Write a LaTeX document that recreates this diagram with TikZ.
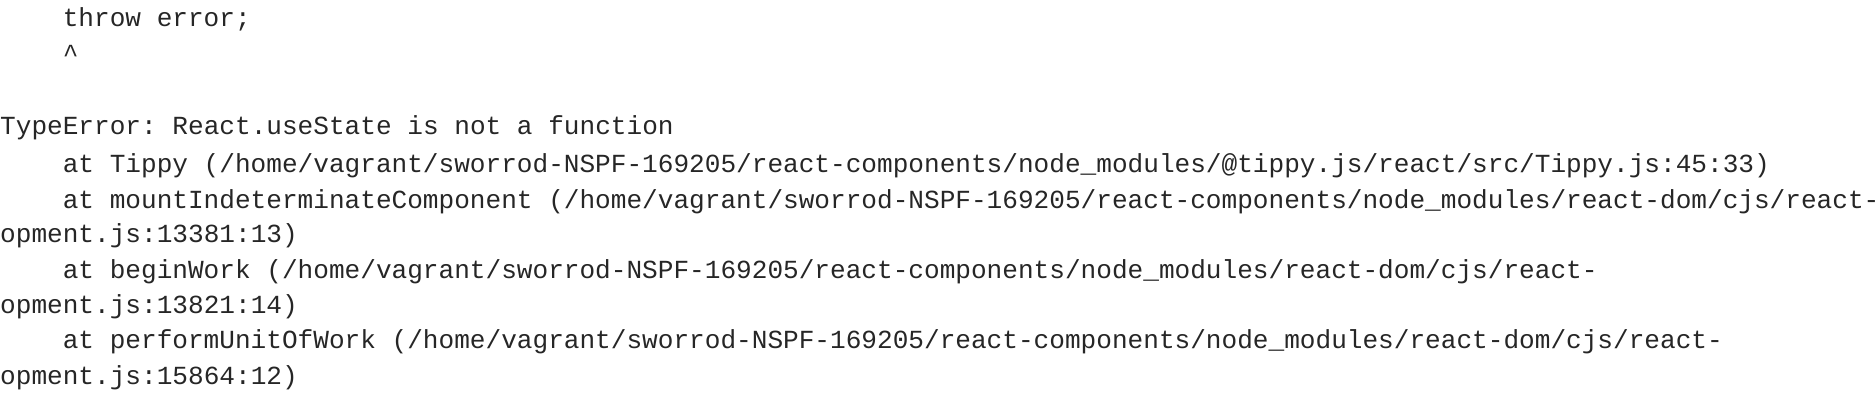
\documentclass[tikz,border=0pt]{standalone}
\usepackage{fontspec}
\setmonofont{Liberation Mono}
\begin{document}
\begin{tikzpicture}[x=1pt,y=1pt,
  ln/.style={anchor=base west,inner sep=0pt,font=\ttfamily\fontsize{26.1}{30}\selectfont,text=black!85}]
\useasboundingbox (0,0) rectangle (1876,-400);
\clip (0,0) rectangle (1876,-400);
\def\ind{62.6}
\node[ln] (a) at (\ind,-26) {throw error;};
\node[ln] (b) at (\ind,-62) {\textasciicircum};
\node[ln] (c) at (0,-134) {TypeError: React.useState is not a function};
\node[ln] (d) at (\ind,-172) {at Tippy (/home/vagrant/sworrod-NSPF-169205/react-components/node\_modules/@tippy.js/react/src/Tippy.js:45:33)};
\node[ln] (e) at (\ind,-208) {at mountIndeterminateComponent (/home/vagrant/sworrod-NSPF-169205/react-components/node\_modules/react-dom/cjs/react-};
\node[ln] (f) at (0,-242) {opment.js:13381:13)};
\node[ln] (g) at (\ind,-278) {at beginWork (/home/vagrant/sworrod-NSPF-169205/react-components/node\_modules/react-dom/cjs/react-};
\node[ln] (h) at (0,-313) {opment.js:13821:14)};
\node[ln] (i) at (\ind,-348) {at performUnitOfWork (/home/vagrant/sworrod-NSPF-169205/react-components/node\_modules/react-dom/cjs/react-};
\node[ln] (j) at (0,-384) {opment.js:15864:12)};
\end{tikzpicture}
\end{document}
